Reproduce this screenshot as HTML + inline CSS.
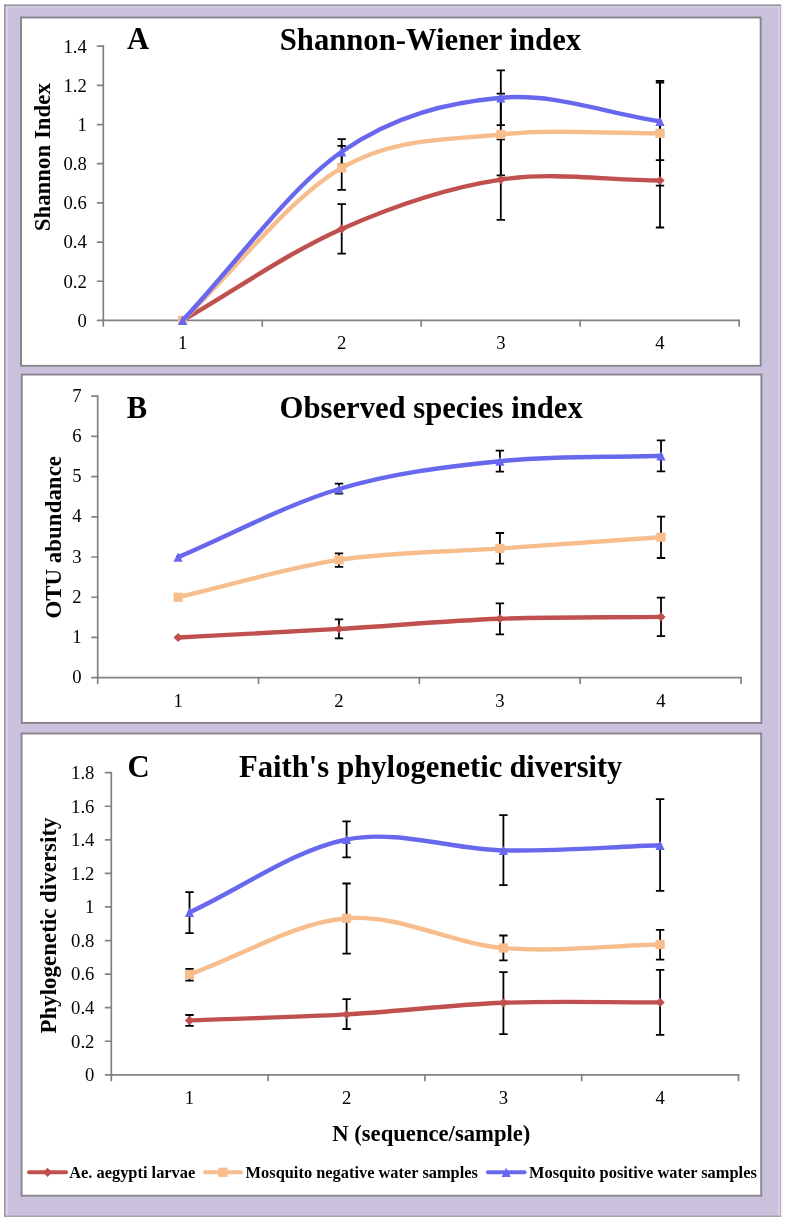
<!DOCTYPE html>
<html lang="en"><head><meta charset="utf-8"><title>Diversity indices</title>
<style>html,body{margin:0;padding:0;background:#fff}svg{display:block}</style>
</head><body>
<svg width="785" height="1222" viewBox="0 0 785 1222">
<rect x="0" y="0" width="785" height="1222" fill="#fff"/>
<rect x="4.1" y="4.6" width="777" height="1212.4" fill="#cac1dc"/>
<g fill="none">
<path d="M6.6 5V1216.5" stroke="#dcd6e9" stroke-width="2"/>
<path d="M5 6.7H780.5" stroke="#d8d2e6" stroke-width="1.5"/>
<path d="M779.1 5V1216" stroke="#dcd7e8" stroke-width="1.8"/>
<path d="M4.85 4.6V1217" stroke="#9a97a4" stroke-width="1.5"/>
<path d="M4.1 5.25H781" stroke="#96939f" stroke-width="1.4"/>
<path d="M780.5 4.6V1217" stroke="#b3b0bb" stroke-width="1.3"/>
<path d="M4.1 1216.2H781.2" stroke="#a5a2ad" stroke-width="1.6"/>
</g>
<g fill="#fff" stroke="#87848d" stroke-width="1.9">
<rect x="21.05" y="17.5" width="739.6" height="348.3"/>
<rect x="21.8" y="374.55" width="739.6" height="348.35"/>
<rect x="21.6" y="733.5" width="739.6" height="462.2"/>
</g>
<g stroke="#828282" stroke-width="1.7" fill="none" stroke-linecap="round">
<path d="M103.3 46.2 V320.4"/>
<path d="M103.3 320.4 H739.1"/>
<path d="M97.5 320.4 H103.3"/>
<path d="M97.5 281.23 H103.3"/>
<path d="M97.5 242.06 H103.3"/>
<path d="M97.5 202.89 H103.3"/>
<path d="M97.5 163.71 H103.3"/>
<path d="M97.5 124.54 H103.3"/>
<path d="M97.5 85.37 H103.3"/>
<path d="M97.5 46.2 H103.3"/>
<path d="M103.3 320.4 V326"/>
<path d="M262.25 320.4 V326"/>
<path d="M421.2 320.4 V326"/>
<path d="M580.15 320.4 V326"/>
<path d="M739.1 320.4 V326"/>
</g>
<g font-family="Liberation Serif, serif" font-size="18.67" fill="#000">
<text x="86.8" y="326.7" text-anchor="end">0</text>
<text x="86.8" y="287.53" text-anchor="end">0.2</text>
<text x="86.8" y="248.36" text-anchor="end">0.4</text>
<text x="86.8" y="209.19" text-anchor="end">0.6</text>
<text x="86.8" y="170.01" text-anchor="end">0.8</text>
<text x="86.8" y="130.84" text-anchor="end">1</text>
<text x="86.8" y="91.67" text-anchor="end">1.2</text>
<text x="86.8" y="52.5" text-anchor="end">1.4</text>
<text x="182.6" y="348.9" text-anchor="middle">1</text>
<text x="341.7" y="348.9" text-anchor="middle">2</text>
<text x="500.8" y="348.9" text-anchor="middle">3</text>
<text x="660" y="348.9" text-anchor="middle">4</text>
</g>
<g stroke="#000" stroke-width="1.8" fill="none">
<path d="M337.5 204.1 H345.9 M341.7 204.1 V253.7 M337.5 253.7 H345.9"/>
<path d="M496.6 139.4 H505 M500.8 139.4 V219.8 M496.6 219.8 H505"/>
<path d="M655.8 133.5 H664.2 M660 133.5 V227.5 M655.8 227.5 H664.2"/>
<path d="M337.5 145.9 H345.9 M341.7 145.9 V189.9 M337.5 189.9 H345.9"/>
<path d="M496.6 93.7 H505 M500.8 93.7 V175.3 M496.6 175.3 H505"/>
<path d="M655.8 80.9 H664.2 M660 80.9 V185.7 M655.8 185.7 H664.2"/>
<path d="M337.5 139.1 H345.9 M341.7 139.1 V164.5 M337.5 164.5 H345.9"/>
<path d="M496.6 70.4 H505 M500.8 70.4 V125.2 M496.6 125.2 H505"/>
<path d="M655.8 82.5 H664.2 M660 82.5 V160.1 M655.8 160.1 H664.2"/>
</g>
<path d="M182.6 320.4 C235.63 289.9 288.67 252.37 341.7 228.9 C394.73 205.43 447.75 187.67 500.8 179.6 C553.85 171.53 606.93 180.2 660 180.5" fill="none" stroke="#c0504d" stroke-width="4.4" stroke-linecap="round" stroke-linejoin="round"/>
<path d="M182.6 315.8 L187.2 320.4 L182.6 325 L178 320.4Z" fill="#c0504d"/>
<path d="M341.7 224.3 L346.3 228.9 L341.7 233.5 L337.1 228.9Z" fill="#c0504d"/>
<path d="M500.8 175 L505.4 179.6 L500.8 184.2 L496.2 179.6Z" fill="#c0504d"/>
<path d="M660 175.9 L664.6 180.5 L660 185.1 L655.4 180.5Z" fill="#c0504d"/>
<path d="M182.6 320.4 C235.63 269.57 288.67 198.88 341.7 167.9 C394.73 136.92 447.75 140.27 500.8 134.5 C553.85 128.73 606.93 133.7 660 133.3" fill="none" stroke="#f8bd8d" stroke-width="4.4" stroke-linecap="round" stroke-linejoin="round"/>
<rect x="178" y="315.8" width="9.2" height="9.2" fill="#f8bd8d"/>
<rect x="337.1" y="163.3" width="9.2" height="9.2" fill="#f8bd8d"/>
<rect x="496.2" y="129.9" width="9.2" height="9.2" fill="#f8bd8d"/>
<rect x="655.4" y="128.7" width="9.2" height="9.2" fill="#f8bd8d"/>
<path d="M182.6 320.4 C235.63 264.2 288.67 188.9 341.7 151.8 C394.73 114.7 447.75 102.88 500.8 97.8 C553.85 92.72 606.93 113.47 660 121.3" fill="none" stroke="#6868ee" stroke-width="4.4" stroke-linecap="round" stroke-linejoin="round"/>
<path d="M182.6 315.8 L187.2 325 L178 325Z" fill="#6868ee"/>
<path d="M341.7 147.2 L346.3 156.4 L337.1 156.4Z" fill="#6868ee"/>
<path d="M500.8 93.2 L505.4 102.4 L496.2 102.4Z" fill="#6868ee"/>
<path d="M660 116.7 L664.6 125.9 L655.4 125.9Z" fill="#6868ee"/>
<g stroke="#828282" stroke-width="1.7" fill="none" stroke-linecap="round">
<path d="M97.7 396.1 V677.7"/>
<path d="M97.7 677.7 H741"/>
<path d="M91.9 677.7 H97.7"/>
<path d="M91.9 637.47 H97.7"/>
<path d="M91.9 597.24 H97.7"/>
<path d="M91.9 557.01 H97.7"/>
<path d="M91.9 516.79 H97.7"/>
<path d="M91.9 476.56 H97.7"/>
<path d="M91.9 436.33 H97.7"/>
<path d="M91.9 396.1 H97.7"/>
<path d="M97.7 677.7 V683.3"/>
<path d="M258.52 677.7 V683.3"/>
<path d="M419.35 677.7 V683.3"/>
<path d="M580.17 677.7 V683.3"/>
<path d="M741 677.7 V683.3"/>
</g>
<g font-family="Liberation Serif, serif" font-size="18.67" fill="#000">
<text x="81.6" y="683.2" text-anchor="end">0</text>
<text x="81.6" y="642.97" text-anchor="end">1</text>
<text x="81.6" y="602.74" text-anchor="end">2</text>
<text x="81.6" y="562.51" text-anchor="end">3</text>
<text x="81.6" y="522.29" text-anchor="end">4</text>
<text x="81.6" y="482.06" text-anchor="end">5</text>
<text x="81.6" y="441.83" text-anchor="end">6</text>
<text x="81.6" y="401.6" text-anchor="end">7</text>
<text x="178.1" y="706.5" text-anchor="middle">1</text>
<text x="339" y="706.5" text-anchor="middle">2</text>
<text x="499.9" y="706.5" text-anchor="middle">3</text>
<text x="661" y="706.5" text-anchor="middle">4</text>
</g>
<g stroke="#000" stroke-width="1.8" fill="none">
<path d="M334.8 619.3 H343.2 M339 619.3 V638.4 M334.8 638.4 H343.2"/>
<path d="M495.7 603.3 H504.1 M499.9 603.3 V634.3 M495.7 634.3 H504.1"/>
<path d="M656.8 597.6 H665.2 M661 597.6 V636.1 M656.8 636.1 H665.2"/>
<path d="M334.8 553.4 H343.2 M339 553.4 V566.8 M334.8 566.8 H343.2"/>
<path d="M495.7 533 H504.1 M499.9 533 V563.7 M495.7 563.7 H504.1"/>
<path d="M656.8 516.6 H665.2 M661 516.6 V558 M656.8 558 H665.2"/>
<path d="M334.8 483.6 H343.2 M339 483.6 V493.5 M334.8 493.5 H343.2"/>
<path d="M495.7 450.7 H504.1 M499.9 450.7 V471.7 M495.7 471.7 H504.1"/>
<path d="M656.8 440.3 H665.2 M661 440.3 V471.4 M656.8 471.4 H665.2"/>
</g>
<path d="M178.1 637.5 C231.73 634.63 285.37 632.03 339 628.9 C392.63 625.77 446.23 620.7 499.9 618.7 C553.57 616.7 607.3 617.5 661 616.9" fill="none" stroke="#c0504d" stroke-width="4.4" stroke-linecap="round" stroke-linejoin="round"/>
<path d="M178.1 632.9 L182.7 637.5 L178.1 642.1 L173.5 637.5Z" fill="#c0504d"/>
<path d="M339 624.3 L343.6 628.9 L339 633.5 L334.4 628.9Z" fill="#c0504d"/>
<path d="M499.9 614.1 L504.5 618.7 L499.9 623.3 L495.3 618.7Z" fill="#c0504d"/>
<path d="M661 612.3 L665.6 616.9 L661 621.5 L656.4 616.9Z" fill="#c0504d"/>
<path d="M178.1 597.2 C231.73 584.77 285.37 568.03 339 559.9 C392.63 551.77 446.23 552.18 499.9 548.4 C553.57 544.62 607.3 540.93 661 537.2" fill="none" stroke="#f8bd8d" stroke-width="4.4" stroke-linecap="round" stroke-linejoin="round"/>
<rect x="173.5" y="592.6" width="9.2" height="9.2" fill="#f8bd8d"/>
<rect x="334.4" y="555.3" width="9.2" height="9.2" fill="#f8bd8d"/>
<rect x="495.3" y="543.8" width="9.2" height="9.2" fill="#f8bd8d"/>
<rect x="656.4" y="532.6" width="9.2" height="9.2" fill="#f8bd8d"/>
<path d="M178.1 557.1 C231.73 534.4 285.37 504.98 339 489 C392.63 473.02 446.23 466.73 499.9 461.2 C553.57 455.67 607.3 457.6 661 455.8" fill="none" stroke="#6868ee" stroke-width="4.4" stroke-linecap="round" stroke-linejoin="round"/>
<path d="M178.1 552.5 L182.7 561.7 L173.5 561.7Z" fill="#6868ee"/>
<path d="M339 484.4 L343.6 493.6 L334.4 493.6Z" fill="#6868ee"/>
<path d="M499.9 456.6 L504.5 465.8 L495.3 465.8Z" fill="#6868ee"/>
<path d="M661 451.2 L665.6 460.4 L656.4 460.4Z" fill="#6868ee"/>
<g stroke="#828282" stroke-width="1.7" fill="none" stroke-linecap="round">
<path d="M111.3 772.7 V1074.8"/>
<path d="M111.3 1074.8 H738.5"/>
<path d="M105.5 1074.8 H111.3"/>
<path d="M105.5 1041.23 H111.3"/>
<path d="M105.5 1007.67 H111.3"/>
<path d="M105.5 974.1 H111.3"/>
<path d="M105.5 940.53 H111.3"/>
<path d="M105.5 906.97 H111.3"/>
<path d="M105.5 873.4 H111.3"/>
<path d="M105.5 839.83 H111.3"/>
<path d="M105.5 806.27 H111.3"/>
<path d="M105.5 772.7 H111.3"/>
<path d="M111.3 1074.8 V1080.4"/>
<path d="M268.1 1074.8 V1080.4"/>
<path d="M424.9 1074.8 V1080.4"/>
<path d="M581.7 1074.8 V1080.4"/>
<path d="M738.5 1074.8 V1080.4"/>
</g>
<g font-family="Liberation Serif, serif" font-size="18.67" fill="#000">
<text x="94.4" y="1081.1" text-anchor="end">0</text>
<text x="94.4" y="1047.53" text-anchor="end">0.2</text>
<text x="94.4" y="1013.97" text-anchor="end">0.4</text>
<text x="94.4" y="980.4" text-anchor="end">0.6</text>
<text x="94.4" y="946.83" text-anchor="end">0.8</text>
<text x="94.4" y="913.27" text-anchor="end">1</text>
<text x="94.4" y="879.7" text-anchor="end">1.2</text>
<text x="94.4" y="846.13" text-anchor="end">1.4</text>
<text x="94.4" y="812.57" text-anchor="end">1.6</text>
<text x="94.4" y="779" text-anchor="end">1.8</text>
<text x="189.5" y="1103.7" text-anchor="middle">1</text>
<text x="346.6" y="1103.7" text-anchor="middle">2</text>
<text x="503.4" y="1103.7" text-anchor="middle">3</text>
<text x="660.1" y="1103.7" text-anchor="middle">4</text>
</g>
<g stroke="#000" stroke-width="1.8" fill="none">
<path d="M185.3 1015 H193.7 M189.5 1015 V1025.9 M185.3 1025.9 H193.7"/>
<path d="M342.4 999.1 H350.8 M346.6 999.1 V1029 M342.4 1029 H350.8"/>
<path d="M499.2 972.2 H507.6 M503.4 972.2 V1034.1 M499.2 1034.1 H507.6"/>
<path d="M655.9 969.9 H664.3 M660.1 969.9 V1034.9 M655.9 1034.9 H664.3"/>
<path d="M185.3 968.9 H193.7 M189.5 968.9 V980.6 M185.3 980.6 H193.7"/>
<path d="M342.4 883.5 H350.8 M346.6 883.5 V953.6 M342.4 953.6 H350.8"/>
<path d="M499.2 935.5 H507.6 M503.4 935.5 V960.4 M499.2 960.4 H507.6"/>
<path d="M655.9 929.8 H664.3 M660.1 929.8 V959.6 M655.9 959.6 H664.3"/>
<path d="M185.3 892.1 H193.7 M189.5 892.1 V933.2 M185.3 933.2 H193.7"/>
<path d="M342.4 821.4 H350.8 M346.6 821.4 V857.4 M342.4 857.4 H350.8"/>
<path d="M499.2 815.2 H507.6 M503.4 815.2 V885.1 M499.2 885.1 H507.6"/>
<path d="M655.9 799.1 H664.3 M660.1 799.1 V890.8 M655.9 890.8 H664.3"/>
</g>
<path d="M189.5 1020.4 C241.87 1018.4 294.28 1017.33 346.6 1014.4 C398.92 1011.47 451.15 1004.8 503.4 1002.8 C555.65 1000.8 607.87 1002.53 660.1 1002.4" fill="none" stroke="#c0504d" stroke-width="4.4" stroke-linecap="round" stroke-linejoin="round"/>
<path d="M189.5 1015.8 L194.1 1020.4 L189.5 1025 L184.9 1020.4Z" fill="#c0504d"/>
<path d="M346.6 1009.8 L351.2 1014.4 L346.6 1019 L342 1014.4Z" fill="#c0504d"/>
<path d="M503.4 998.2 L508 1002.8 L503.4 1007.4 L498.8 1002.8Z" fill="#c0504d"/>
<path d="M660.1 997.8 L664.7 1002.4 L660.1 1007 L655.5 1002.4Z" fill="#c0504d"/>
<path d="M189.5 974.5 C241.87 955.77 294.28 922.72 346.6 918.3 C398.92 913.88 451.15 943.63 503.4 948 C555.65 952.37 607.87 945.67 660.1 944.5" fill="none" stroke="#f8bd8d" stroke-width="4.4" stroke-linecap="round" stroke-linejoin="round"/>
<rect x="184.9" y="969.9" width="9.2" height="9.2" fill="#f8bd8d"/>
<rect x="342" y="913.7" width="9.2" height="9.2" fill="#f8bd8d"/>
<rect x="498.8" y="943.4" width="9.2" height="9.2" fill="#f8bd8d"/>
<rect x="655.5" y="939.9" width="9.2" height="9.2" fill="#f8bd8d"/>
<path d="M189.5 912.4 C241.87 888.1 294.28 849.83 346.6 839.5 C398.92 829.17 451.15 849.43 503.4 850.4 C555.65 851.37 607.87 847 660.1 845.3" fill="none" stroke="#6868ee" stroke-width="4.4" stroke-linecap="round" stroke-linejoin="round"/>
<path d="M189.5 907.8 L194.1 917 L184.9 917Z" fill="#6868ee"/>
<path d="M346.6 834.9 L351.2 844.1 L342 844.1Z" fill="#6868ee"/>
<path d="M503.4 845.8 L508 855 L498.8 855Z" fill="#6868ee"/>
<path d="M660.1 840.7 L664.7 849.9 L655.5 849.9Z" fill="#6868ee"/>
<g font-family="Liberation Serif, serif" font-weight="bold" fill="#000">
<g font-size="30.67">
<text x="126.9" y="49.4">A</text>
<text x="126.8" y="417.6">B</text>
<text x="127.6" y="776.6">C</text>
<text x="279.8" y="50">Shannon-Wiener index</text>
<text x="279.6" y="417.8">Observed species index</text>
<text x="239" y="777.2">Faith's <tspan x="337.2">phylogenetic</tspan> <tspan x="509.4" textLength="112.8" lengthAdjust="spacingAndGlyphs">diversity</tspan></text>
</g>
<g font-size="22.67">
<text x="332.2" y="1141.1">N (sequence/sample)</text>
<text transform="translate(49.7 231.3) rotate(-90)" textLength="148.2" lengthAdjust="spacingAndGlyphs">Shannon Index</text>
<text transform="translate(61.1 618.6) rotate(-90)" textLength="162.6" lengthAdjust="spacingAndGlyphs">OTU abundance</text>
<text transform="translate(56.1 1033.5) rotate(-90)" textLength="216" lengthAdjust="spacingAndGlyphs">Phylogenetic diversity</text>
</g>
</g>
<g stroke-width="4" stroke-linecap="round" fill="none"><path d="M29 1172.3 H66" stroke="#c0504d"/><path d="M205 1172.3 H241" stroke="#f8bd8d"/><path d="M488 1172.3 H524.5" stroke="#6868ee"/></g><path d="M47.5 1167.7 L52.1 1172.3 L47.5 1176.9 L42.9 1172.3Z" fill="#c0504d"/><rect x="218.4" y="1167.7" width="9.2" height="9.2" fill="#f8bd8d"/><path d="M506.2 1167.7 L510.8 1176.9 L501.6 1176.9Z" fill="#6868ee"/><g font-family="Liberation Serif, serif" font-weight="bold" font-size="16.4" fill="#000">
<text x="69.2" y="1178">Ae. aegypti larvae</text>
<text x="245.6" y="1178">Mosquito negative water samples</text>
<text x="529" y="1178">Mosquito positive water samples</text>
</g>
</svg>
</body></html>
